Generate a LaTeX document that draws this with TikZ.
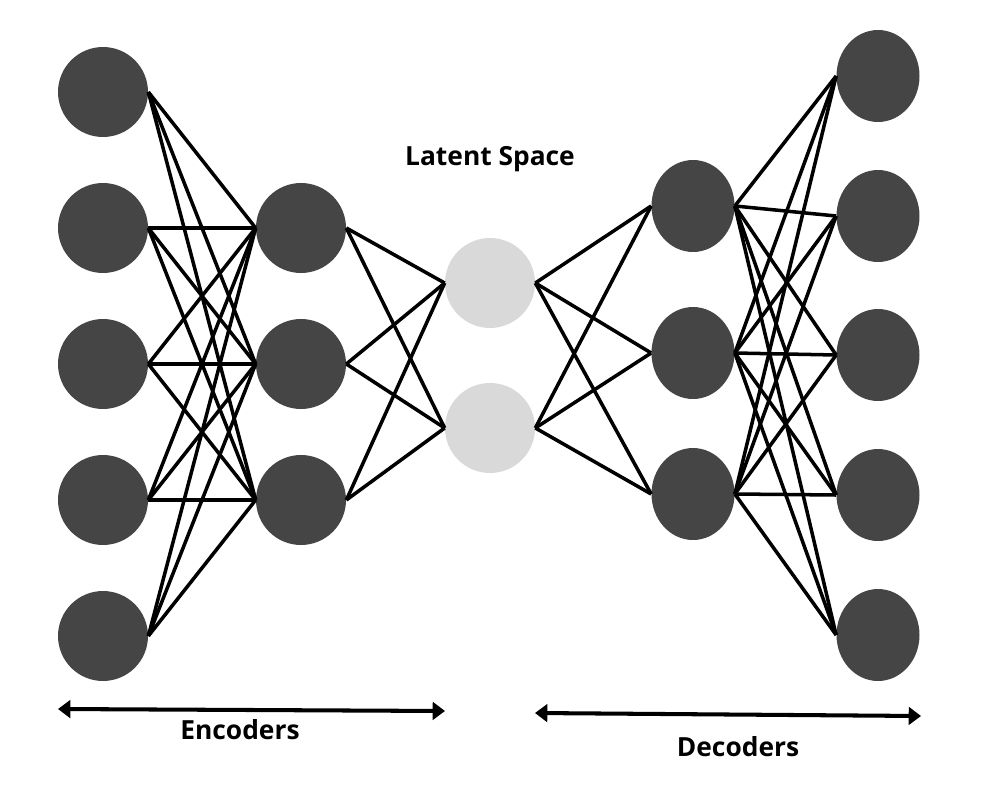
\documentclass[tikz,border=0pt]{standalone}
\usepackage{fontspec}
\setmainfont{Open Sans}
\usetikzlibrary{shapes.geometric,arrows.meta}
\definecolor{neurongray}{HTML}{454545}
\definecolor{latentgray}{HTML}{D9D9D9}
\tikzset{
  encneuron/.style={circle, fill=neurongray, minimum size=1.8cm, inner sep=0pt},
  decneuron/.style={ellipse, fill=neurongray, minimum width=1.66cm, minimum height=1.84cm, inner sep=0pt},
  latneuron/.style={circle, fill=latentgray, minimum size=1.8cm, inner sep=0pt},
  wire/.style={line width=2pt},
  rangearrow/.style={line width=2.3pt, {Triangle[length=7pt,width=10pt]}-{Triangle[length=7pt,width=10pt]}},
  boldlabel/.style={anchor=base, font=\bfseries\fontsize{15}{18}\selectfont}
}
\begin{document}
\begin{tikzpicture}[x=0.02cm, y=-0.02cm]
  \useasboundingbox (0,0) rectangle (986,804);

  % input layer
  \foreach \i/\y in {1/92, 2/228, 3/364, 4/500, 5/636}
    \node[encneuron] (in\i) at (103,\y) {};
  % encoder hidden layer
  \foreach \i/\y in {1/228, 2/364, 3/500}
    \node[encneuron] (eh\i) at (301,\y) {};
  % latent space
  \foreach \i/\y in {1/283, 2/428}
    \node[latneuron] (z\i) at (490,\y) {};
  % decoder hidden layer
  \foreach \i/\y in {1/206, 2/353, 3/494}
    \node[decneuron] (dh\i) at (693,\y) {};
  % output layer
  \foreach \i/\y in {1/76, 2/216, 3/355, 4/495, 5/635}
    \node[decneuron] (out\i) at (878,\y) {};

  % connections
  \foreach \i in {1,...,5}
    \foreach \j in {1,2,3}
      \draw[wire] (in\i.east) -- (eh\j.west);
  \foreach \i in {1,2,3}
    \foreach \j in {1,2}
      \draw[wire] (eh\i.east) -- (z\j.west);
  \foreach \i in {1,2}
    \foreach \j in {1,2,3}
      \draw[wire] (z\i.east) -- (dh\j.west);
  \foreach \i in {1,2,3}
    \foreach \j in {1,...,5}
      \draw[wire] (dh\i.east) -- (out\j.west);

  \node[boldlabel] (latlbl) at (490,166) {Latent Space};

  % ranges
  \coordinate (encL) at (58,709);
  \coordinate (encR) at (445,711);
  \coordinate (decL) at (535,713);
  \coordinate (decR) at (921,716);
  \draw[rangearrow] (encL) -- (encR);
  \draw[rangearrow] (decL) -- (decR);
  \node[boldlabel] (enclbl) at (240,739) {Encoders};
  \node[boldlabel] (declbl) at (738,756) {Decoders};
\end{tikzpicture}
\end{document}
